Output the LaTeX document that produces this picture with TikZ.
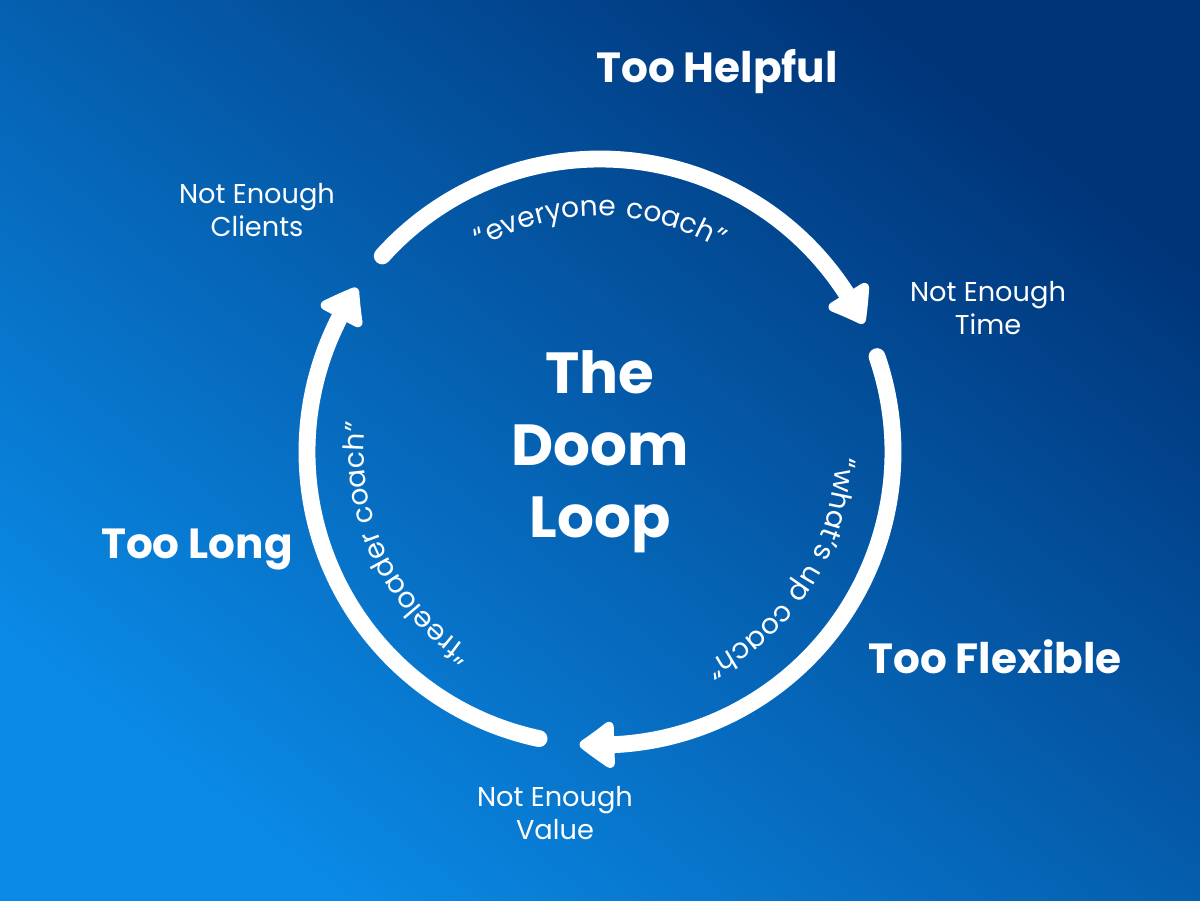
\documentclass[tikz,border=0pt]{standalone}
\usepackage{fontspec}
\setmainfont{Poppins}
\usetikzlibrary{arrows.meta,bending,decorations.text,positioning}
\definecolor{bgdark}{HTML}{003478}
\definecolor{bglight}{HTML}{0A8AE6}
\tikzset{
  loop arc/.style={white,line width=9.6pt,line cap=round,-{Triangle[length=22pt,width=30pt,round,bend]}},
  side label/.style={white,font=\fontsize{24}{28}\selectfont\bfseries},
  state label/.style={white,align=center,font=\fontsize{15.5}{19}\selectfont},
  coach text/.style={decorate,decoration={text along path,text align=center,
    text={|\fontsize{16}{18}\selectfont\addfontfeature{LetterSpace=6}\color{white}|#1}}}
}
\begin{document}
\begin{tikzpicture}[x=0.02cm,y=0.02cm]
\shade[left color=bglight,right color=bgdark,shading angle=142] (-600,-448) rectangle (600,452);
\useasboundingbox (-600,-448) rectangle (600,452);
\coordinate (c) at (0,0);
% the three arcs of the loop
\draw[loop arc] ([shift={(138:293)}]c) arc[start angle=138,end angle=26,radius=293];
\draw[loop arc] ([shift={(19:293)}]c) arc[start angle=19,end angle=-94,radius=293];
\draw[loop arc] ([shift={(-102:293)}]c) arc[start angle=-102,end angle=-214,radius=293];
% texts along the arcs
\path[coach text={“everyone coach”}] ([shift={(135:236)}]c) arc[start angle=135,end angle=45,radius=236];
\path[coach text={“what’s up coach”}] ([shift={(15:236)}]c) arc[start angle=15,end angle=-80,radius=236];
\path[coach text={“freeloader coach”}] ([shift={(-105:236)}]c) arc[start angle=-105,end angle=-205,radius=236];
% labels
\node[white,align=center,font=\fontsize{33}{41}\selectfont\bfseries] (title) at (c) {The\\Doom\\Loop};
\node[side label] (helpful) at (117,380) {Too Helpful};
\node[side label] (flexible) at (395,-205) {Too Flexible};
\node[side label] (long) at (-403,-97) {Too Long};
\node[state label] (clients) at (-343,242) {Not Enough\\Clients};
\node[state label] (time) at (388,144) {Not Enough\\Time};
\node[state label] (value) at (-45,-361) {Not Enough\\Value};
\end{tikzpicture}
\end{document}
